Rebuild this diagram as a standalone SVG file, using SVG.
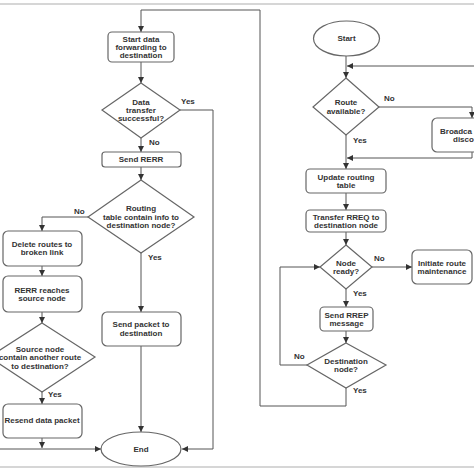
<svg xmlns="http://www.w3.org/2000/svg" width="474" height="474" viewBox="0 0 474 474">
<style>
.n{fill:#fff;stroke:#666;stroke-width:1.2}
.t{font-family:"Liberation Sans",Arial,sans-serif;font-size:8px;font-weight:bold;fill:#333;text-anchor:middle}
.l{font-family:"Liberation Sans",Arial,sans-serif;font-size:8px;font-weight:bold;fill:#333}
.c{fill:none;stroke:#555;stroke-width:1}
.b{stroke:#c8c8c8;stroke-width:1.5}
</style>
<defs>
<marker id="a" markerUnits="userSpaceOnUse" markerWidth="7" markerHeight="7" refX="6" refY="3" orient="auto">
<path d="M0,0 L6,3 L0,6 z" fill="#333"/>
</marker>
</defs>
<rect width="474" height="474" fill="#fff"/>
<line class="b" x1="0" y1="4" x2="474" y2="4"/>
<line class="b" x1="0" y1="467" x2="474" y2="467"/>

<g id="connectors">
<path class="c" d="M346,388 V406 H260 V10 H141 V32" marker-end="url(#a)"/>
<path class="c" d="M141,62 V83" marker-end="url(#a)"/>
<path class="c" d="M141,138 V152" marker-end="url(#a)"/>
<path class="c" d="M141,167 V180" marker-end="url(#a)"/>
<path class="c" d="M180,110 H213 V449 H182" marker-end="url(#a)"/>
<path class="c" d="M88,217 H42 V231" marker-end="url(#a)"/>
<path class="c" d="M42,266 V276" marker-end="url(#a)"/>
<path class="c" d="M141,253 V312" marker-end="url(#a)"/>
<path class="c" d="M42,312 V323" marker-end="url(#a)"/>
<path class="c" d="M42,392 V404" marker-end="url(#a)"/>
<path class="c" d="M42,438 V448" marker-end="url(#a)"/>
<path class="c" d="M0,449 H101" marker-end="url(#a)"/>
<path class="c" d="M141,346 V432" marker-end="url(#a)"/>
<path class="c" d="M346,56 V78" marker-end="url(#a)"/>
<path class="c" d="M474,66 H347" marker-end="url(#a)"/>
<path class="c" d="M379,107 H472 V118" marker-end="url(#a)"/>
<path class="c" d="M472,152 V158 H347" marker-end="url(#a)"/>
<path class="c" d="M346,135 V169" marker-end="url(#a)"/>
<path class="c" d="M346,193 V210" marker-end="url(#a)"/>
<path class="c" d="M346,232 V245" marker-end="url(#a)"/>
<path class="c" d="M372,267 H412" marker-end="url(#a)"/>
<path class="c" d="M307,365 H280 V267 H320" marker-end="url(#a)"/>
<path class="c" d="M346,289 V307" marker-end="url(#a)"/>
<path class="c" d="M346,331 V343" marker-end="url(#a)"/>
<text class="l" x="181" y="104">Yes</text>
<text class="l" x="149" y="145">No</text>
<text class="l" x="74" y="214">No</text>
<text class="l" x="148" y="260">Yes</text>
<text class="l" x="48" y="397">Yes</text>
<text class="l" x="384" y="101">No</text>
<text class="l" x="353" y="143">Yes</text>
<text class="l" x="374" y="261">No</text>
<text class="l" x="353" y="296">Yes</text>
<text class="l" x="294" y="359">No</text>
<text class="l" x="353" y="393">Yes</text>
</g>

<g id="start-forwarding">
<rect class="n" x="108" y="32" width="66" height="30" rx="4"/>
<text class="t" x="141" y="42">Start data</text>
<text class="t" x="141" y="50">forwarding to</text>
<text class="t" x="141" y="58">destination</text>
</g>
<g id="data-transfer">
<polygon class="n" points="141,83 180,110 141,138 102,110"/>
<text class="t" x="141" y="105">Data</text>
<text class="t" x="141" y="113">transfer</text>
<text class="t" x="141" y="121">successful?</text>
</g>
<g id="send-rerr">
<rect class="n" x="102" y="152" width="79" height="15" rx="3"/>
<text class="t" x="141" y="162">Send RERR</text>
</g>
<g id="routing-table">
<polygon class="n" points="141,180 194,217 141,253 88,217"/>
<text class="t" x="141" y="211">Routing</text>
<text class="t" x="141" y="220">table contain info to</text>
<text class="t" x="141" y="228">destination node?</text>
</g>
<g id="delete-routes">
<rect class="n" x="3" y="231" width="79" height="35" rx="5"/>
<text class="t" x="42" y="247">Delete routes to</text>
<text class="t" x="42" y="255">broken link</text>
</g>
<g id="rerr-reaches">
<rect class="n" x="3" y="276" width="79" height="36" rx="5"/>
<text class="t" x="42" y="293">RERR reaches</text>
<text class="t" x="42" y="301">source node</text>
</g>
<g id="source-node">
<polygon class="n" points="42,323 95,357 42,392 -11,357"/>
<text class="t" x="40" y="352">Source node</text>
<text class="t" x="40" y="360">contain another route</text>
<text class="t" x="40" y="369">to destination?</text>
</g>
<g id="resend">
<rect class="n" x="3" y="404" width="79" height="34" rx="5"/>
<text class="t" x="42" y="423">Resend data packet</text>
</g>
<g id="send-packet">
<rect class="n" x="102" y="312" width="79" height="34" rx="5"/>
<text class="t" x="141" y="327">Send packet to</text>
<text class="t" x="141" y="336">destination</text>
</g>
<g id="end">
<ellipse class="n" cx="141" cy="449" rx="40" ry="17"/>
<text class="t" x="141" y="452">End</text>
</g>

<g id="start">
<ellipse class="n" cx="346.5" cy="38.5" rx="33" ry="17.5" stroke-width="1.5"/>
<text class="t" x="346.5" y="41">Start</text>
</g>
<g id="route-available">
<polygon class="n" points="346,78 379,107 346,135 313,107"/>
<text class="t" x="346" y="105">Route</text>
<text class="t" x="346" y="114">available?</text>
</g>
<g id="broadcast">
<rect class="n" x="432" y="118" width="80" height="34" rx="5"/>
<text class="l" x="440" y="134">Broadca</text>
<text class="l" x="453" y="142">disco</text>
</g>
<g id="update-routing">
<rect class="n" x="306" y="169" width="80" height="24" rx="4"/>
<text class="t" x="346" y="180">Update routing</text>
<text class="t" x="346" y="188">table</text>
</g>
<g id="transfer-rreq">
<rect class="n" x="306" y="210" width="80" height="22" rx="4"/>
<text class="t" x="346" y="220">Transfer RREQ to</text>
<text class="t" x="346" y="228">destination node</text>
</g>
<g id="node-ready">
<polygon class="n" points="346,245 372,267 346,289 320,267"/>
<text class="t" x="346" y="266">Node</text>
<text class="t" x="346" y="274">ready?</text>
</g>
<g id="initiate">
<rect class="n" x="412" y="250" width="60" height="34" rx="5"/>
<text class="t" x="442" y="266">Initiate route</text>
<text class="t" x="442" y="274">maintenance</text>
</g>
<g id="send-rrep">
<rect class="n" x="320" y="307" width="53" height="24" rx="4"/>
<text class="t" x="346.5" y="318">Send RREP</text>
<text class="t" x="346.5" y="326">message</text>
</g>
<g id="destination-node">
<polygon class="n" points="346,343 386,365 346,388 307,365"/>
<text class="t" x="346" y="364">Destination</text>
<text class="t" x="346" y="372">node?</text>
</g>
</svg>
